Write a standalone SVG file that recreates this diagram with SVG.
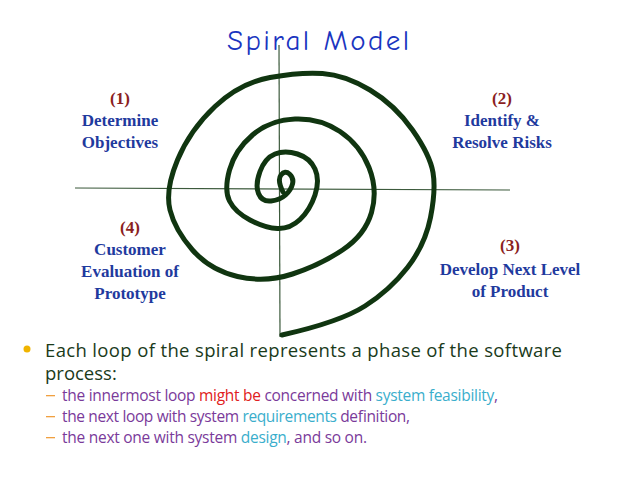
<svg xmlns="http://www.w3.org/2000/svg" width="638" height="479" viewBox="0 0 638 479">
<style>
.lbl{font-family:"Liberation Serif",serif;font-weight:bold;font-size:17px;fill:#1f3a9e;text-anchor:middle}
.num{fill:#8b1f1f}
.ax{stroke:#3c5a3c;stroke-width:1.2;fill:none}
.b{font-family:"Open Sans","Liberation Sans",sans-serif}
.p{fill:#7a3a9a}.c{fill:#3aaecc}.r{fill:#e02020}
</style>
<rect width="638" height="479" fill="#fff"/>
<text x="318" y="50" text-anchor="middle" font-family="'Comic Neue','DejaVu Sans',sans-serif" font-size="29" fill="#1a35c0" textLength="182">Spiral Model</text>
<g id="connectors">
<line class="ax" x1="279" y1="45" x2="280" y2="337"/>
<line class="ax" x1="75" y1="188" x2="510" y2="190"/>
<path id="spiral" fill="none" stroke="#103510" stroke-width="5" stroke-linecap="round" stroke-linejoin="round" d="M283,192 Q277,180 281,175 Q285,170 289.5,174 Q294,178 292.5,184 Q291,190 285.5,195 Q280,200 271,201 Q262,202 258.5,193.5 Q255,185 260,171.5 Q265,158 275,154 Q285,150 297.5,154 Q310,158 315,169 Q320,180 315,195 Q310,210 300,219.5 Q290,229 277.5,228.5 Q265,228 250,220 Q235,212 229.5,201 Q224,190 229.5,170 Q235,150 252.5,135 Q270,120 295,119 Q320,118 340,131.5 Q360,145 369,167.5 Q378,190 371.5,212.5 Q365,235 342.5,250 Q320,265 292.5,274 Q265,283 237.5,276.5 Q210,270 192.5,250 Q175,230 170,210 Q165,190 177.5,160 Q190,130 215,106.5 Q240,83 270,77.5 Q300,72 322.5,73.5 Q345,75 370,90 Q395,105 412.5,130 Q430,155 433,172.5 Q436,190 430.5,217.5 Q425,245 407.5,267.5 Q390,290 365,306 Q340,322 282,335"/>
</g>
<g id="q1" class="lbl"><text x="120" y="104" class="num">(1)</text><text x="120" y="126">Determine</text><text x="120" y="148">Objectives</text></g>
<g id="q2" class="lbl"><text x="502" y="104" class="num">(2)</text><text x="502" y="126">Identify &amp;</text><text x="502" y="148">Resolve Risks</text></g>
<g id="q4" class="lbl"><text x="130" y="233" class="num">(4)</text><text x="130" y="255">Customer</text><text x="130" y="277">Evaluation of</text><text x="130" y="299">Prototype</text></g>
<g id="q3" class="lbl"><text x="510" y="251" class="num">(3)</text><text x="510" y="275">Develop Next Level</text><text x="510" y="297">of Product</text></g>
<g id="notes" class="b">
<circle cx="27" cy="349" r="3.5" fill="#f0b400"/>
<text x="45" y="357" font-size="18.5" fill="#1a3a1a" textLength="517">Each loop of the spiral represents a phase of the software</text>
<text x="45" y="380" font-size="18.5" fill="#1a3a1a">process:</text>
<g fill="#f0a040"><rect x="46" y="395" width="9" height="1.3"/><rect x="46" y="416" width="9" height="1.3"/><rect x="46" y="437" width="9" height="1.3"/></g>
<text x="62" y="401" font-size="15.5" class="p" textLength="436">the innermost loop <tspan class="r">might be</tspan> concerned with <tspan class="c">system feasibility</tspan>,</text>
<text x="62" y="422" font-size="15.5" class="p" textLength="348">the next loop with system <tspan class="c">requirements</tspan> definition,</text>
<text x="62" y="443" font-size="15.5" class="p" textLength="305">the next one with system <tspan class="c">design</tspan>, and so on.</text>
</g>
</svg>
